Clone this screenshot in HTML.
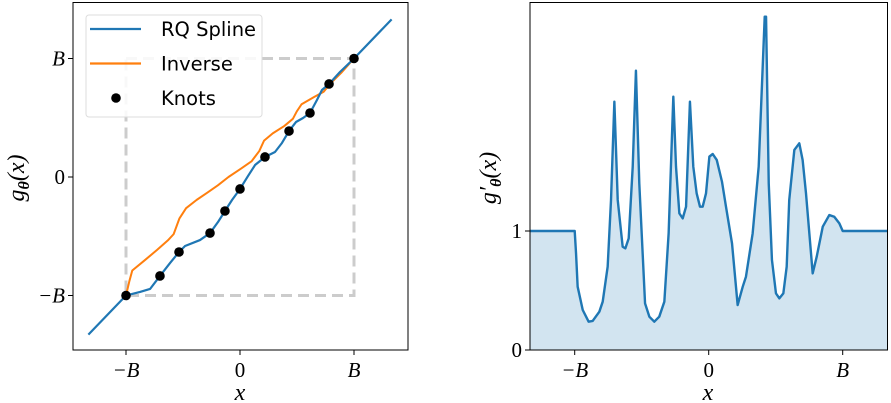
<!DOCTYPE html>
<html><head><meta charset="utf-8"><style>
html,body{margin:0;padding:0;background:#fff;width:891px;height:403px;overflow:hidden}
svg text{font-family:"Liberation Serif",serif}
.m{font-style:italic}
.leg{font-family:"DejaVu Sans","Liberation Sans",sans-serif;font-size:19.5px}
</style></head><body>
<svg id="s" width="891" height="403" xmlns="http://www.w3.org/2000/svg">
<g id="L"></g>
<g id="R"></g>
</svg>
<script>
// Left panel data (B = 1)
const splineX = [-1,-0.877,-0.789,-0.702,-0.614,-0.535,-0.482,-0.351,-0.263,-0.193,-0.132,-0.070,0,0.070,0.132,0.219,0.307,0.368,0.430,0.491,0.553,0.614,0.675,0.719,0.781,0.877,1];
const splineY = [-1,-0.970,-0.945,-0.835,-0.726,-0.633,-0.582,-0.532,-0.473,-0.380,-0.287,-0.194,-0.101,0.008,0.101,0.169,0.211,0.287,0.388,0.464,0.498,0.540,0.650,0.734,0.785,0.886,1];
const knotX = [-1,-0.702,-0.535,-0.263,-0.132,0,0.219,0.430,0.614,0.781,1];
const knotY = [-1,-0.835,-0.633,-0.473,-0.287,-0.101,0.169,0.388,0.540,0.785,1];
const identityRange = [-1.33, 1.33];
const tickVals = [-1, 0, 1];
const tickLabels = ["\u2212B", "0", "B"];
// Right panel data
const derivX = [-1.333,-1.0,-0.990,-0.978,-0.940,-0.896,-0.866,-0.816,-0.791,-0.754,-0.729,-0.704,-0.679,-0.642,-0.622,-0.597,-0.567,-0.543,-0.518,-0.475,-0.443,-0.406,-0.369,-0.331,-0.299,-0.264,-0.244,-0.219,-0.194,-0.169,-0.140,-0.115,-0.090,-0.065,-0.045,-0.020,0.005,0.030,0.060,0.099,0.129,0.174,0.216,0.254,0.278,0.328,0.373,0.403,0.418,0.428,0.448,0.472,0.502,0.527,0.557,0.582,0.601,0.639,0.676,0.701,0.726,0.776,0.806,0.851,0.900,0.937,0.975,1.0,1.336];
const derivY = [1,1,0.812,0.532,0.336,0.238,0.244,0.322,0.406,0.700,1.261,2.087,1.261,0.868,0.854,0.938,1.541,2.347,1.401,0.392,0.280,0.238,0.280,0.406,0.980,2.129,1.541,1.148,1.106,1.204,2.087,1.541,1.317,1.204,1.204,1.317,1.625,1.647,1.597,1.415,1.204,0.896,0.378,0.532,0.616,0.980,1.541,2.381,2.801,2.801,1.401,0.756,0.476,0.434,0.476,0.700,1.261,1.681,1.737,1.597,1.317,0.644,0.784,1.036,1.134,1.120,1.064,1,1];
const derivYTicks = [0, 1];

const NS="http://www.w3.org/2000/svg";
function mk(parent,tag,attrs,txt){const e=document.createElementNS(NS,tag);for(const k in attrs)e.setAttribute(k,attrs[k]);if(txt!==undefined)e.textContent=txt;parent.appendChild(e);return e;}
function ylabel(parent,tx,prime){
 const t=mk(parent,'text',{x:0,y:0,'font-size':24,'text-anchor':'middle',transform:'translate('+tx+',178) rotate(-90)',class:'m'});
 
 
 mk(t,'tspan',{},prime?'g\u2032':'g');
 mk(t,'tspan',{'font-size':16,'font-weight':'bold',dy:5},'\u03b8');
 mk(t,'tspan',{dy:-5},'(x)');
}

// Left axes
const L=document.getElementById('L');
const lx=v=>240+v*114, ly=v=>177-v*118.5;
let e;
e=mk(L,'rect',{x:lx(-1),y:ly(1),width:lx(1)-lx(-1),height:ly(-1)-ly(1),fill:'none',stroke:'#cccccc','stroke-width':3,'stroke-dasharray':'11,6'});


e=mk(L,'line',{x1:lx(identityRange[0]),y1:ly(identityRange[0]),x2:lx(-1),y2:ly(-1),stroke:'#1f77b4','stroke-width':2.2});


e=mk(L,'line',{x1:lx(1),y1:ly(1),x2:lx(identityRange[1]),y2:ly(identityRange[1]),stroke:'#1f77b4','stroke-width':2.2});


e=mk(L,'polyline',{points:splineX.map((x,i)=>lx(splineY[i])+','+ly(x)).join(' '),fill:'none',stroke:'#ff7f0e','stroke-width':2,'stroke-linejoin':'round'});


e=mk(L,'polyline',{points:splineX.map((x,i)=>lx(x)+','+ly(splineY[i])).join(' '),fill:'none',stroke:'#1f77b4','stroke-width':2.2,'stroke-linejoin':'round'});


knotX.forEach((x,i)=>{const c=mk(L,'circle',{cx:lx(x),cy:ly(knotY[i]),r:4.8,fill:'#000'});

});
e=mk(L,'rect',{x:73,y:2.5,width:335,height:347.5,fill:'none',stroke:'#000','stroke-width':1});


tickVals.forEach((v,i)=>{
 e=mk(L,'line',{x1:lx(v),y1:350,x2:lx(v),y2:355,stroke:'#000'});
 
 
 e=mk(L,'text',{x:lx(v),y:377,'font-size':21,'text-anchor':'middle',class:tickLabels[i]==='0'?'':'m'},tickLabels[i]);
 
 
 e=mk(L,'line',{x1:68,y1:ly(v),x2:73,y2:ly(v),stroke:'#000'});
 
 
 e=mk(L,'text',{x:65,y:ly(v)+7,'font-size':21,'text-anchor':'end',class:tickLabels[i]==='0'?'':'m'},tickLabels[i]);
 
 
});
e=mk(L,'text',{x:240,y:400,'font-size':24,'text-anchor':'middle',class:'m'},'x');


ylabel(L,24,false);
// legend
const lg=mk(L,'g',{});


mk(lg,'rect',{x:86,y:15,width:176,height:102,rx:3,fill:'#fff','fill-opacity':0.85,stroke:'#ddd'});
const legs=[['RQ Spline','#1f77b4','line'],['Inverse','#ff7f0e','line'],['Knots','#000','dot']];
legs.forEach((d,i)=>{const y=29+i*34.5;
 const g=mk(lg,'g',{});
 
 
 if(d[2]==='line') mk(g,'line',{x1:90,y1:y,x2:141,y2:y,stroke:d[1],'stroke-width':2.2});
 else mk(g,'circle',{cx:116,cy:y,r:4.8,fill:'#000'});
 mk(g,'text',{x:161,y:y+7,class:'leg'},d[0]);
});

// Right axes
const R=document.getElementById('R');
const rx=v=>708.7+v*134, ry=v=>350-v*119;
const pts=derivX.map((x,i)=>rx(x)+','+ry(derivY[i]));
e=mk(R,'polygon',{points:rx(derivX[0])+','+ry(0)+' '+pts.join(' ')+' '+rx(derivX[derivX.length-1])+','+ry(0),fill:'#1f77b4','fill-opacity':0.2,stroke:'none'});


e=mk(R,'polyline',{points:pts.join(' '),fill:'none',stroke:'#1f77b4','stroke-width':2.4,'stroke-linejoin':'round'});


e=mk(R,'rect',{x:530,y:2.5,width:357.5,height:347.5,fill:'none',stroke:'#000','stroke-width':1});


tickVals.forEach((v,i)=>{
 e=mk(R,'line',{x1:rx(v),y1:350,x2:rx(v),y2:355,stroke:'#000'});
 
 
 e=mk(R,'text',{x:rx(v),y:377,'font-size':21,'text-anchor':'middle',class:tickLabels[i]==='0'?'':'m'},tickLabels[i]);
 
 
});
derivYTicks.forEach(v=>{
 e=mk(R,'line',{x1:525,y1:ry(v),x2:530,y2:ry(v),stroke:'#000'});
 
 
 e=mk(R,'text',{x:522,y:ry(v)+7,'font-size':21,'text-anchor':'end'},String(v));
 
 
});
e=mk(R,'text',{x:708,y:400,'font-size':24,'text-anchor':'middle',class:'m'},'x');


ylabel(R,496,true);
</script>
</body></html>
